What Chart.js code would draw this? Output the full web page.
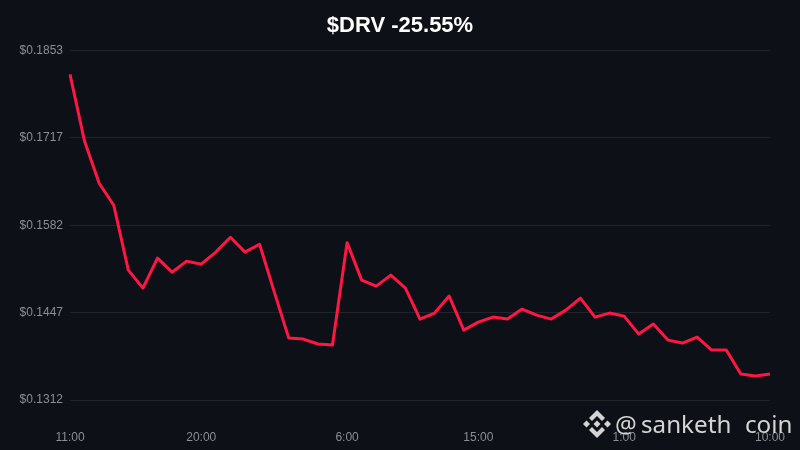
<!DOCTYPE html>
<html>
<head>
<meta charset="utf-8">
<script src="https://cdn.jsdelivr.net/npm/chart.js@4/dist/chart.umd.min.js"></script>
<style>
    html, body { margin: 0; padding: 0; background: #0d1117; }
    #wrap { position: relative; width: 800px; height: 450px; overflow: hidden; }
    .mark { position: absolute; top: 406px; color: #d4d4d4; font: 24.2px/36px "Noto Sans", sans-serif; white-space: pre; }
    #logo { position: absolute; left: 583px; top: 410px; }
</style>
</head>
<body>
<div id="wrap">
    <canvas id="chart" width="800" height="450"></canvas>
    <svg id="logo" width="28" height="28" viewBox="0 0 28 28" fill="#d4d4d4">
        <polygon points="14,0 22,8 19,11 14,6 9,11 6,8"/>
        <polygon points="14,28 22,20 19,17 14,22 9,17 6,20"/>
        <polygon points="3.5,10.5 7,14 3.5,17.5 0,14"/>
        <polygon points="24.5,10.5 28,14 24.5,17.5 21,14"/>
        <polygon points="14,10.5 17.5,14 14,17.5 10.5,14"/>
    </svg>
    <div class="mark" style="left:615px">@</div>
    <div class="mark" style="left:641px">sanketh</div>
    <div class="mark" style="left:745px">coin</div>
</div>
<script>
const categories = [
    '11:00', '', '', '', '', '', '', '', '', '20:00',
    '', '', '', '', '', '', '', '', '', '6:00',
    '', '', '', '', '', '', '', '', '15:00', '',
    '', '', '', '', '', '', '', '', '1:00', '',
    '', '', '', '', '', '', '', '', '10:00'
];
const prices = [
    0.18159, 0.17123, 0.16474, 0.16134, 0.15129, 0.14851, 0.15315, 0.15098, 0.15269, 0.15222,
    0.15408, 0.15639, 0.15408, 0.15531, 0.14797, 0.14078, 0.14063, 0.13986, 0.1397, 0.15555,
    0.14975, 0.14882, 0.15052, 0.14851, 0.14372, 0.14465, 0.14728, 0.14202, 0.14326, 0.14403,
    0.14372, 0.14527, 0.14434, 0.14372, 0.14511, 0.14697, 0.14403, 0.14465, 0.14418, 0.1414,
    0.14295, 0.14047, 0.14001, 0.14094, 0.13893, 0.13893, 0.13522, 0.13491, 0.13522
];
const priceTicks = [0.1312, 0.14473, 0.15825, 0.17178, 0.1853];
const priceTickLabels = ['$0.1312', '$0.1447', '$0.1582', '$0.1717', '$0.1853'];

const tickFont = { family: '"Liberation Sans", Arial, sans-serif', size: 12 };

new Chart(document.getElementById('chart').getContext('2d'), {
    type: 'line',
    data: {
        labels: categories,
        datasets: [{
            data: prices,
            borderColor: '#ff1744',
            borderWidth: 3,
            pointRadius: 0,
            tension: 0,
            borderJoinStyle: 'round'
        }]
    },
    options: {
        responsive: false,
        animation: false,
        plugins: {
            legend: { display: false },
            tooltip: { enabled: false },
            title: {
                display: true,
                text: '$DRV -25.55%',
                color: '#ffffff',
                font: { family: '"Liberation Sans", Arial, sans-serif', size: 22, weight: 'bold' },
                padding: { top: 13, bottom: 11 }
            }
        },
        scales: {
            x: {
                grid: { display: false },
                border: { display: false },
                afterFit: (scale) => { scale.height = 50; scale.paddingRight = 30; },
                ticks: {
                    autoSkip: false,
                    maxRotation: 0,
                    padding: 22,
                    color: '#8b8e94',
                    font: tickFont
                }
            },
            y: {
                min: priceTicks[0],
                max: priceTicks[priceTicks.length - 1],
                afterBuildTicks: (scale) => { scale.ticks = priceTicks.map(v => ({ value: v })); },
                afterFit: (scale) => { scale.width = 70; },
                grid: { color: '#20232a', lineWidth: 1, drawTicks: false },
                border: { display: false },
                ticks: {
                    padding: 7,
                    color: '#8b8e94',
                    font: tickFont,
                    callback: (v, i) => priceTickLabels[i]
                }
            }
        }
    }
});
</script>
</body>
</html>
